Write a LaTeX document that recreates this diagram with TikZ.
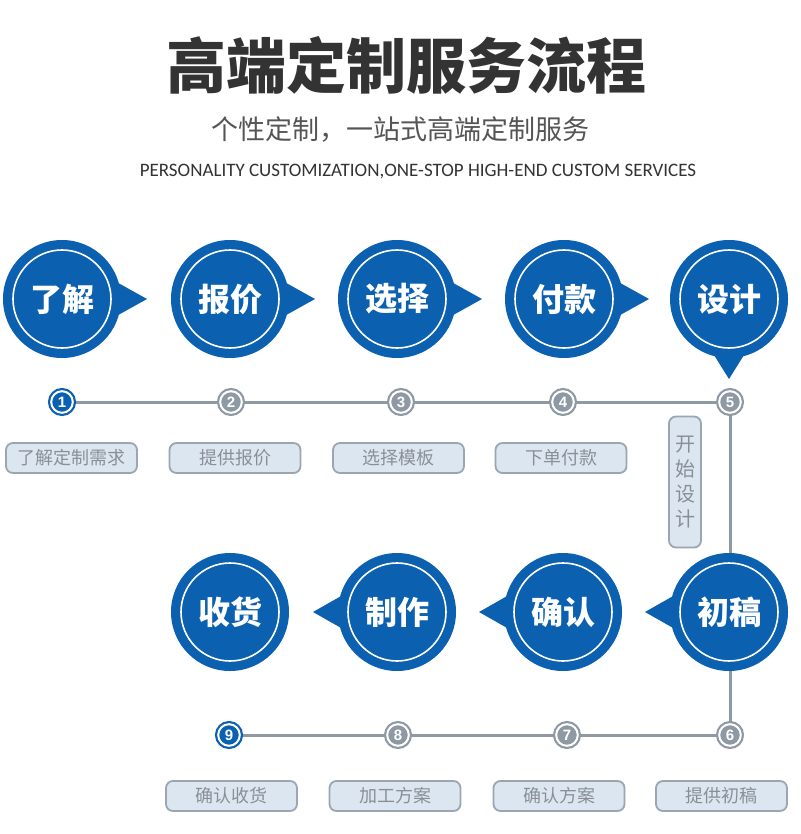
\documentclass[tikz,border=0pt]{standalone}
\usepackage{fontspec}
\usetikzlibrary{calc}
\newfontfamily\cjk{Noto Sans CJK SC}
\newfontfamily\enf{Carlito}
\newfontfamily\numf{Liberation Sans}
\definecolor{myblue}{HTML}{0B60B0}
\definecolor{lgray}{HTML}{8E99A4}
\definecolor{boxf}{HTML}{DCE6F1}
\definecolor{boxd}{HTML}{9BA6B1}
\definecolor{boxt}{HTML}{8A8F96}
\definecolor{titlec}{HTML}{333333}
\definecolor{subc}{HTML}{555555}
\pgfdeclarelayer{back}
\pgfdeclarelayer{bg}
\pgfsetlayers{back,bg,main}
\tikzset{
  bigc/.style={circle, fill=myblue, minimum size=118pt, inner sep=0pt, text=white,
    font=\cjk\bfseries\fontsize{32}{32}\selectfont},
  ring/.style={draw=white, line width=1.6pt},
  numg/.style={circle, fill=lgray, draw=lgray, double=white, double distance=2pt,
    line width=2.2pt, minimum size=21.6pt, inner sep=0pt, text=white,
    font=\numf\bfseries\fontsize{15}{15}\selectfont},
  numb/.style={numg, fill=myblue, draw=myblue},
  conn/.style={draw=lgray, line width=3pt},
  lbox/.style={rounded corners=7pt, draw=boxd, line width=1.8pt, fill=boxf,
    minimum width=131pt, minimum height=30pt, inner sep=0pt, text=boxt,
    font=\cjk\fontsize{18}{18}\selectfont},
  vbox/.style={lbox, minimum width=32pt, minimum height=131pt, align=center,
    font=\cjk\fontsize{20}{25}\selectfont},
  ptr/.style={fill=myblue}
}
\begin{document}
\begin{tikzpicture}[x=1pt,y=-1pt]
\begin{pgfonlayer}{back}
\fill[white] (0,0) rectangle (800,834);
\end{pgfonlayer}
\useasboundingbox (0,0) rectangle (800,834);
% titles
\node[font=\cjk\bfseries\fontsize{60}{60}\selectfont, text=titlec] (title) at (406,65) {高端定制服务流程};
\node[font=\cjk\fontsize{27}{27}\selectfont, text=subc] (sub) at (400,130) {个性定制，一站式高端定制服务};
\node[font=\enf\fontsize{19}{19}\selectfont, text=titlec] (eng) at (418,172) {PERSONALITY CUSTOMIZATION,ONE-STOP HIGH-END CUSTOM SERVICES};
% big circles
\node[bigc] (c1) at (62,299) {了解};
\node[bigc] (c2) at (230,299) {报价};
\node[bigc] (c3) at (397,299) {选择};
\node[bigc] (c4) at (564,299) {付款};
\node[bigc] (c5) at (729,299) {设计};
\node[bigc] (c6) at (729,612) {初稿};
\node[bigc] (c7) at (563,612) {确认};
\node[bigc] (c8) at (397,612) {制作};
\node[bigc] (c9) at (230,612) {收货};
\foreach \c in {c1,c2,c3,c4,c5,c6,c7,c8,c9}
  \draw[ring] (\c.center) circle[radius=49pt];
% number circles
\node[numb] (n1) at (62,402) {1};
\node[numg] (n2) at (231,402) {2};
\node[numg] (n3) at (401,402) {3};
\node[numg] (n4) at (563,402) {4};
\node[numg] (n5) at (730,402) {5};
\node[numg] (n6) at (730,735) {6};
\node[numg] (n7) at (567,735) {7};
\node[numg] (n8) at (398,735) {8};
\node[numb] (n9) at (229,735) {9};
% label boxes
\node[lbox] (b1) at (71.5,458) {了解定制需求};
\node[lbox] (b2) at (235,458) {提供报价};
\node[lbox] (b3) at (398.5,458) {选择模板};
\node[lbox] (b4) at (561,458) {下单付款};
\node[vbox] (b5) at (685,482) {开\\始\\设\\计};
\node[lbox] (b6) at (721.5,796) {提供初稿};
\node[lbox] (b7) at (559,796) {确认方案};
\node[lbox] (b8) at (395,796) {加工方案};
\node[lbox] (b9) at (231.5,796) {确认收货};
\begin{pgfonlayer}{bg}
  % pointers
  \foreach \c in {c1,c2,c3,c4}
    \fill[ptr] ($(\c.center)+(85,0)$) -- ($(\c.center)+(40,-25)$) -- ($(\c.center)+(40,25)$) -- cycle;
  \fill[ptr] ($(c5.center)+(0,80)$) -- ($(c5.center)+(-25,40)$) -- ($(c5.center)+(25,40)$) -- cycle;
  \foreach \c in {c6,c7,c8}
    \fill[ptr] ($(\c.center)+(-84,0)$) -- ($(\c.center)+(-40,-25)$) -- ($(\c.center)+(-40,25)$) -- cycle;
  % connectors
  \draw[conn] (n1) -- (n2);
  \draw[conn] (n2) -- (n3);
  \draw[conn] (n3) -- (n4);
  \draw[conn] (n4) -- (n5);
  \draw[conn] (n5) -- (n6);
  \draw[conn] (n6) -- (n7);
  \draw[conn] (n7) -- (n8);
  \draw[conn] (n8) -- (n9);
\end{pgfonlayer}
\end{tikzpicture}
\end{document}
